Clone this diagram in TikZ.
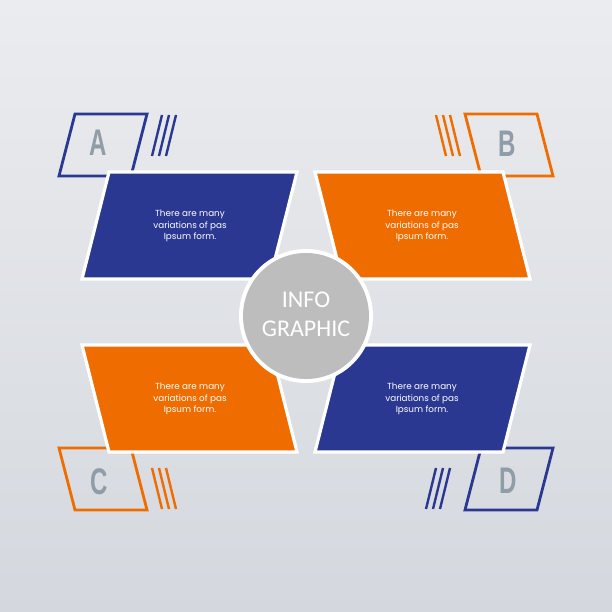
\documentclass[tikz,border=0pt]{standalone}
\usepackage{fontspec}
\setmainfont{Poppins}
\newfontfamily\circlefont{Carlito}
\newfontfamily\letterfont{Liberation Sans}
\usetikzlibrary{positioning}
\definecolor{panelblue}{HTML}{2B3892}
\definecolor{panelorange}{HTML}{EF6C00}
\definecolor{lettergray}{HTML}{8E9DA7}
\definecolor{circlegray}{HTML}{BDBDBD}
\definecolor{bgtop}{HTML}{EBECEF}
\definecolor{bgbottom}{HTML}{D4D8DE}
\tikzset{
  panel/.style={draw=white,line width=3.2pt,line join=miter},
  tagbox/.style={line width=2.8pt,line join=miter},
  stripe/.style={line width=2.4pt},
  paneltext/.style={text=white,align=center,inner sep=0pt,
    font=\fontsize{8.8}{11.2}\selectfont},
  tagletter/.style={text=lettergray,inner sep=0pt,
    font=\letterfont\bfseries\fontsize{37}{37}\selectfont},
  centertext/.style={text=white,align=center,inner sep=0pt,
    font=\circlefont\fontsize{24}{30}\selectfont}
}
\begin{document}
\begin{tikzpicture}[x=1pt,y=-1pt]
  \useasboundingbox (0,0) rectangle (612,612);
  \shade[top color=bgtop,bottom color=bgbottom] (0,0) rectangle (612,612);
  % tag boxes
  \draw[tagbox,panelblue] (75,114) -- (147,114) -- (131,176) -- (59,176) -- cycle;
  \draw[tagbox,panelorange] (465,114) -- (537,114) -- (553,176) -- (481,176) -- cycle;
  \draw[tagbox,panelorange] (59,448) -- (131,448) -- (147,510) -- (75,510) -- cycle;
  \draw[tagbox,panelblue] (481,448) -- (553,448) -- (537,510) -- (465,510) -- cycle;
  % stripes
  \begin{scope}[stripe,panelblue]
    \draw (162,115) -- (152,156);
    \draw (169,115) -- (159,156);
    \draw (176,115) -- (166,156);
    \draw (450,468) -- (440,509);
    \draw (443,468) -- (433,509);
    \draw (436,468) -- (426,509);
  \end{scope}
  \begin{scope}[stripe,panelorange]
    \draw (450,115) -- (460,156);
    \draw (443,115) -- (453,156);
    \draw (436,115) -- (446,156);
    \draw (152,468) -- (162,509);
    \draw (159,468) -- (169,509);
    \draw (166,468) -- (176,509);
  \end{scope}
  % panels
  \filldraw[panel,fill=panelblue] (109,172) -- (297,172) -- (270,279) -- (82,279) -- cycle;
  \filldraw[panel,fill=panelorange] (315,172) -- (503,172) -- (530,279) -- (342,279) -- cycle;
  \filldraw[panel,fill=panelorange] (82,345) -- (270,345) -- (297,452) -- (109,452) -- cycle;
  \filldraw[panel,fill=panelblue] (342,345) -- (530,345) -- (503,452) -- (315,452) -- cycle;
  % center circle
  \fill[white] (306,316) circle (67);
  \fill[circlegray] (306,316) circle (63);
  \draw
    (306,300) node[centertext] (info){INFO}
    (306,329) node[centertext] (graphic){GRAPHIC};
  % texts
  \draw
    (190,226) node[paneltext] (textA){There are many\\variations of pas\\Ipsum form.}
    (422,226) node[paneltext] (textB){There are many\\variations of pas\\Ipsum form.}
    (190,399) node[paneltext] (textC){There are many\\variations of pas\\Ipsum form.}
    (422,399) node[paneltext] (textD){There are many\\variations of pas\\Ipsum form.};
  \draw
    (98,143) node[tagletter] (letterA){\scalebox{0.65}[1]{A}}
    (507,144) node[tagletter] (letterB){\scalebox{0.65}[1]{B}}
    (99,482) node[tagletter] (letterC){\scalebox{0.65}[1]{C}}
    (508,481) node[tagletter] (letterD){\scalebox{0.65}[1]{D}};
\end{tikzpicture}
\end{document}
